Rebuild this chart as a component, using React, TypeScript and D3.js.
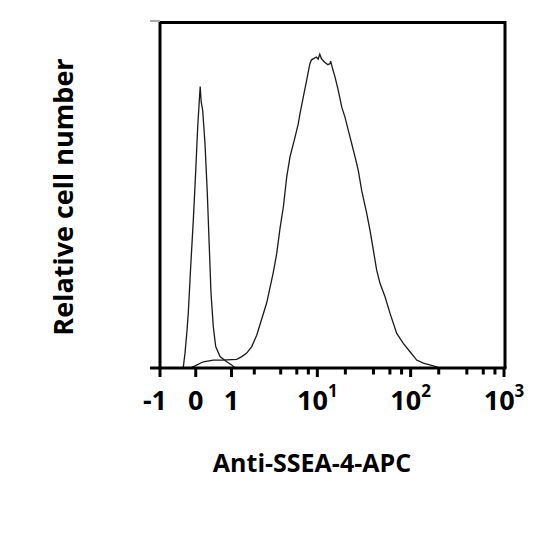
import React from "react";
import * as d3 from "d3";

// ---- data (fluorescence value on a biexponential/arcsinh axis, relative count 0-100) ----
const controlX = [-0.34, -0.31, -0.268, -0.22, -0.185, -0.125, -0.06, 0.0, 0.048, 0.088, 0.11, 0.1225, 0.135, 0.172, 0.23, 0.289, 0.34, 0.385, 0.447, 0.512, 0.635, 0.84, 1.006, 1.12];
const controlY = [0, 0.4, 4.3, 10.5, 15.9, 29.3, 42.8, 57.2, 69.7, 77.5, 81.5, 79.1, 77.0, 74.6, 65.0, 50.6, 35.1, 21.7, 11.9, 6.2, 3.3, 1.8, 0.9, 0];

const stainedX = [-0.142, -0.018, 0.187, 0.447, 0.685, 1.19, 1.395, 1.613, 1.863, 2.137, 2.785, 3.311, 3.613, 3.934, 4.279, 4.66, 5.06, 5.74, 6.23, 6.5, 7.05, 7.66, 8.31, 8.66, 9.2, 9.79, 10.2, 10.62, 11.08, 12.0, 13.0, 13.7, 13.9, 14.6, 15.5, 16.8, 18.3, 19.8, 21.5, 23.4, 25.4, 27.5, 29.9, 33.9, 36.7, 39.9, 43.3, 47.0, 53.2, 60.2, 71.0, 83.5, 98.5, 116.2, 136.7, 175, 206];
const stainedY = [0, 0.6, 1.8, 2.3, 2.3, 2.5, 3.3, 4.3, 6.2, 9.5, 18.8, 27.7, 33.1, 40.5, 46.6, 55.3, 61.1, 66.8, 70.7, 73.6, 78.4, 83.2, 88.1, 89.2, 89.6, 90.0, 89.4, 90.8, 89.5, 88.5, 87.8, 88.1, 88.8, 86.6, 84.2, 80.3, 75.5, 72.6, 68.8, 64.9, 61.1, 57.2, 51.4, 44.7, 39.9, 34.1, 28.3, 24.5, 20.6, 15.8, 10.0, 7.1, 4.7, 2.3, 1.4, 0.6, 0];

const majorTicks = [-1, 0, 1, 10, 100, 1000];
const minorTicks = [2, 4, 6, 8, 20, 40, 60, 80, 200, 400, 600, 800];
const tickBase = ["-1", "0", "1", "10", "10", "10"];
const tickExp = ["", "", "", "1", "2", "3"];

const xTitle = "Anti-SSEA-4-APC";
const yTitle = "Relative cell number";

const cofactor = 1;
const T = (v: number) => Math.asinh(v / cofactor);

const W = 540, H = 540;
const left = 160, right = 505, top = 22.5, bottom = 368;

const xs = d3.scaleLinear().domain([T(-1), T(1000)]).range([left, right - 1]);
const x = (v: number) => xs(T(v));
const y = d3.scaleLinear().domain([0, 100]).range([bottom, top]);

const font = "'Open Sans', 'DejaVu Sans', sans-serif";

export default function App() {
  const line = d3.line<[number, number]>().x(d => x(d[0])).y(d => y(d[1]));
  const ctrl = controlX.map((v, i) => [v, controlY[i]] as [number, number]);
  const stn = stainedX.map((v, i) => [v, stainedY[i]] as [number, number]);
  return (
    <svg width={W} height={H} style={{ position: "absolute", left: 0, top: 0, background: "#fff" }}>
      <rect x={0} y={0} width={W} height={H} fill="#fff" />
      {/* curves */}
      <path d={line(ctrl) || ""} fill="none" stroke="#1a1a1a" strokeWidth={1.3} />
      <path d={line(stn) || ""} fill="none" stroke="#1a1a1a" strokeWidth={1.3} />
      {/* frame */}
      <line x1={left} x2={right} y1={top} y2={top} stroke="#000" strokeWidth={3} />
      <line x1={left} x2={left} y1={top - 1.5} y2={bottom} stroke="#000" strokeWidth={3} />
      <line x1={right} x2={right} y1={top - 1.5} y2={bottom} stroke="#000" strokeWidth={3} />
      {/* y ticks */}
      <line x1={left - 10} x2={left} y1={y(100) - 1.5} y2={y(100) - 1.5} stroke="#aaa" strokeWidth={2} />
      {/* x axis */}
      <line x1={left - 10} x2={right + 1.5} y1={bottom} y2={bottom} stroke="#000" strokeWidth={3} />
      {majorTicks.map((t, i) => (
        <line key={"M" + i} x1={x(t)} x2={x(t)} y1={bottom} y2={bottom + 9} stroke="#000" strokeWidth={3} />
      ))}
      {minorTicks.map((t, i) => (
        <line key={"m" + i} x1={x(t)} x2={x(t)} y1={bottom} y2={bottom + 6.5} stroke="#000" strokeWidth={3} />
      ))}
      {majorTicks.map((t, i) => (
        <text key={"l" + i} x={x(t)} y={410} dx={i === 0 ? -5 : 0} textAnchor="middle" fontFamily={font} fontWeight={700} fontSize={27} fill="#000">
          {tickBase[i]}
          {tickExp[i] && <tspan dy={-13} fontSize={17}>{tickExp[i]}</tspan>}
        </text>
      ))}
      {/* titles */}
      <text x={312} y={472} textAnchor="middle" fontFamily={font} fontWeight={700} fontSize={25} fill="#000">{xTitle}</text>
      <text transform={`translate(73,197) rotate(-90)`} textAnchor="middle" fontFamily={font} fontWeight={700} fontSize={27} fill="#000">{yTitle}</text>
    </svg>
  );
}
